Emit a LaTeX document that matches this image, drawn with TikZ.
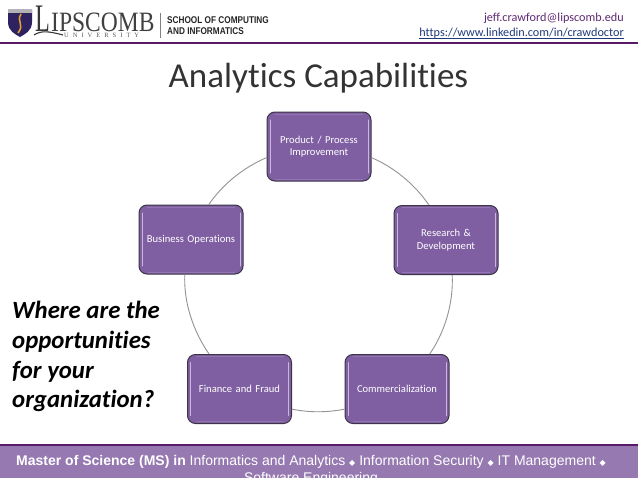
\documentclass[tikz,border=0pt]{standalone}
\usepackage{fontspec}
\setmainfont{Carlito}[Ligatures=CommonOff]
\newfontfamily\boxf{Carlito}[Ligatures=CommonOff,WordSpace=.65]
\newfontfamily\arialf{Liberation Sans}
\newfontfamily\timesf{Liberation Serif}
\newfontfamily\dejaf{DejaVu Sans}
\definecolor{boxfill}{HTML}{7F5FA2}
\definecolor{boxedge}{HTML}{3B3547}
\definecolor{boxglow}{HTML}{C9B8DC}
\definecolor{band}{HTML}{9679B0}
\definecolor{bandline}{HTML}{5A1A6A}
\definecolor{inkblue}{HTML}{1F3A7A}
\definecolor{inkpurple}{HTML}{5E2A72}
\definecolor{shield}{HTML}{2E2260}
\definecolor{flame}{HTML}{E0A030}
\newcommand{\dia}{{\dejaf\fontsize{8}{10}\selectfont ◆}}
\tikzset{
  capbox/.style={draw=boxedge,line width=1pt,fill=boxfill,rounded corners=8pt,
    minimum width=104pt,minimum height=69pt,inner sep=2pt,align=center,
    text=white,font=\boxf\fontsize{10.6}{12.6}\selectfont,text width=99pt,
    path picture={
      \draw[boxglow,line width=1pt,line cap=round]
        ([xshift=3pt,yshift=8pt]path picture bounding box.south west) -- ([xshift=3pt,yshift=-8pt]path picture bounding box.north west)
        ([xshift=-3pt,yshift=8pt]path picture bounding box.south east) -- ([xshift=-3pt,yshift=-8pt]path picture bounding box.north east);
      \draw[boxglow!25!boxfill,line width=.8pt]
        ([xshift=8pt,yshift=-2pt]path picture bounding box.north west) -- ([xshift=-8pt,yshift=-2pt]path picture bounding box.north east)
        ([xshift=8pt,yshift=2pt]path picture bounding box.south west) -- ([xshift=-8pt,yshift=2pt]path picture bounding box.south east);
    }},
  ring/.style={draw=gray!85,line width=.9pt,looseness=.85},
  rulebar/.style={bandline,line width=1.2pt}
}
\begin{document}
\begin{tikzpicture}[x=1pt,y=-1pt]
\useasboundingbox (0,0) rectangle (638,479);
\fill[white] (0,0) rectangle (638,479);
% header
\draw[rulebar] (0,43) -- (638,43);
\fill[shield] (8,9.5) -- (32,9.5) -- (32,22) .. controls (32,31) and (25,34) .. (20,37) .. controls (15,34) and (8,31) .. (8,22) -- cycle;
\fill[gray!60!white] (8,9.5) rectangle (32,12.5);
\draw[flame,line width=1.6pt] (21,14) .. controls (16,22) and (25,24) .. (18,33);
\node[anchor=base west,inner sep=0,text=black!78,font=\timesf\fontsize{39}{39}\selectfont] (bigl) at (35,31.5) {\scalebox{.62}[1]{L}};
\draw[black!78,line width=1.1pt] (34,35) .. controls (41,30.5) and (48,31) .. (63,35);
\node[anchor=base west,inner sep=0,text=black!75,font=\timesf\fontsize{28}{28}\selectfont] (lips) at (51,31.5) {\scalebox{.84}[1]{IPSCOMB}};
\node[anchor=west,inner sep=0,text=black!65,font=\timesf\fontsize{6.5}{7}\selectfont] (univ) at (64,35.5) {U\hspace{4pt}N\hspace{4pt}I\hspace{4pt}V\hspace{4pt}E\hspace{4pt}R\hspace{4pt}S\hspace{4pt}I\hspace{4pt}T\hspace{4pt}Y};
\draw[black!50,line width=.5pt] (160,13) -- (160,38);
\node[anchor=west,inner sep=0,text=black!85,font=\arialf\bfseries\fontsize{9.8}{11}\selectfont] (school) at (167,20) {\scalebox{.84}[1]{SCHOOL OF COMPUTING}};
\node[anchor=west,inner sep=0,text=black!85,font=\arialf\bfseries\fontsize{9.8}{11}\selectfont] (infor) at (167,31) {\scalebox{.84}[1]{AND INFORMATICS}};
\node[anchor=east,inner sep=0,text=inkpurple,font=\fontsize{12.2}{14}\selectfont] (mail) at (624,18) {jeff.crawford@lipscomb.edu};
\node[anchor=east,inner sep=0,text=inkblue,font=\fontsize{12.2}{14}\selectfont] (link) at (624,33) {https://www.linkedin.com/in/crawdoctor};
\draw[inkblue,line width=.6pt] ([yshift=.5pt]link.south west) -- ([yshift=.5pt]link.south east);
% title
\node[inner sep=0,text=black!80,font=\fontsize{35}{38}\selectfont] (title) at (318.5,78) {Analytics Capabilities};
% boxes
\node[capbox] (prod) at (319,146.5) {Product / Process\\Improvement};
\node[capbox] (res) at (446,240) {Research \&\\Development};
\node[capbox] (comm) at (397,389) {Commercialization};
\node[capbox] (fin) at (239.5,389) {Finance and Fraud};
\node[capbox] (biz) at (191,239.5) {Business Operations};
\draw[ring] (prod.-12) to[out=-23,in=124.3] (res.116.6);
\draw[ring] (res.-80.3) to[out=-87,in=55.1] (comm.47.6);
\draw[ring] (comm.201.4) to[out=-168.7,in=-11.7] (fin.-21.2);
\draw[ring] (fin.131.4) to[out=124.9,in=267] (biz.260);
\draw[ring] (biz.63.4) to[out=55.7,in=203] (prod.192);
% question
\node[anchor=north west,inner sep=0,align=left,text=black,font=\bfseries\itshape\fontsize{24.8}{29.7}\selectfont] (ask) at (12,301) {Where are the\\opportunities\\for your\\organization?};
% footer
\fill[band] (0,445) rectangle (638,478);
\draw[rulebar] (0,445) -- (638,445);
\begin{scope}
\clip (0,446) rectangle (638,478);
\node[anchor=north,inner sep=0,align=center,text=white,font=\arialf\fontsize{14}{17}\selectfont] (foot) at (311,455) {\textbf{Master of Science (MS) in} Informatics and Analytics \dia{} Information Security \dia{} IT Management \dia\\Software Engineering};
\end{scope}
\end{tikzpicture}
\end{document}
